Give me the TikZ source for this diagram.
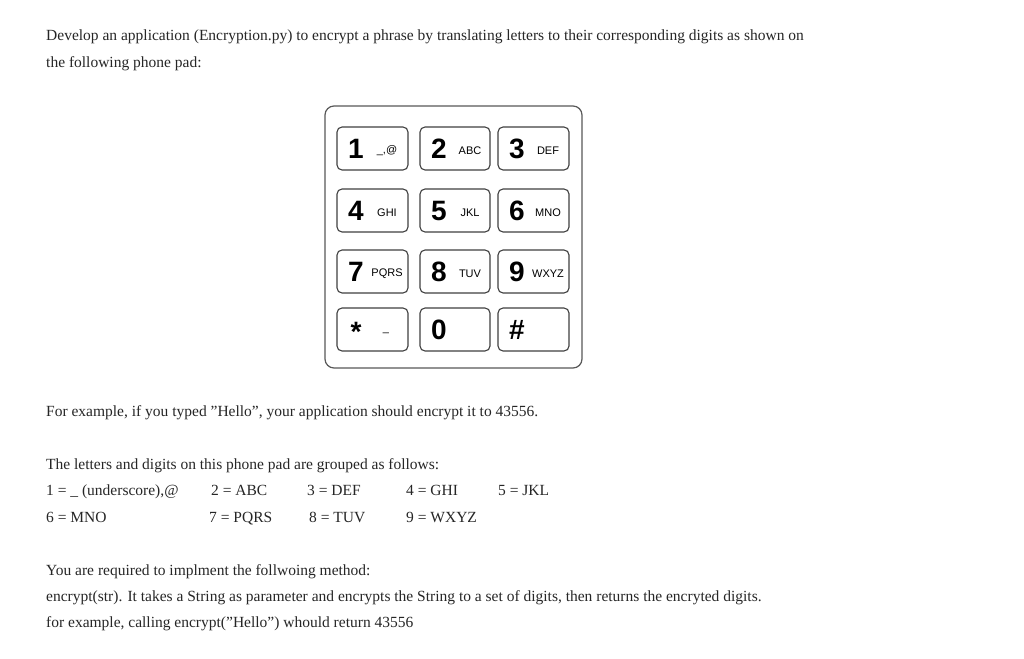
\documentclass[tikz,border=0pt]{standalone}
\usepackage{fontspec}
\setmainfont{Liberation Serif}
\newfontfamily\padfont{Liberation Sans}
\begin{document}
\begin{tikzpicture}[x=1pt,y=-1pt,
  txt/.style={anchor=base west,inner sep=0pt,font=\fontsize{15.5}{18}\selectfont,text=black!85},
  keybox/.style={draw=black!75,line width=1.1pt,rounded corners=5pt},
  dig/.style={anchor=center,inner sep=0pt,font=\padfont\bfseries\fontsize{28}{30}\selectfont},
  let/.style={anchor=center,inner sep=0pt,font=\padfont\fontsize{11}{12}\selectfont}]
\useasboundingbox (0,0) rectangle (1024,658);
\fill[white] (0,0) rectangle (1024,658);
\node[txt] (l1) at (46,41) {Develop an application (Encryption.py) to encrypt a phrase by translating letters to their corresponding digits as shown on};
\node[txt] (l2) at (46,68) {the following phone pad:};
\draw[draw=black!65,line width=1.2pt,rounded corners=9pt] (325,106) rectangle (582,368);
\foreach \r/\y in {0/127,1/189,2/250,3/308}{
  \foreach \x/\w in {337/71,420/70,498/71}{
    \draw[keybox] (\x,\y) rectangle ++(\w,43);
  }}
\foreach \d/\l/\x/\y in {1/{\_,@}/337/127,2/ABC/420/127,3/DEF/498/127,4/GHI/337/189,5/JKL/420/189,6/MNO/498/189,7/PQRS/337/250,8/TUV/420/250,9/WXYZ/498/250}{
  \node[dig] (d\d) at (\x+19,\y+22) {\d};
  \node[let] (t\d) at (\x+50,\y+24) {\l};
}
\node[dig] (ds) at (356,332) {*};
\node[let] (ts) at (386,333) {\_};
\node[dig] (d0) at (439,330) {0};
\node[dig] (dh) at (517,330) {\#};
\node[txt] (ex) at (46,416) {For example, if you typed "Hello", your application should encrypt it to 43556.};
\node[txt] (gr) at (46,469) {The letters and digits on this phone pad are grouped as follows:};
\node[txt] (g1) at (46,495) {1 = \_ (underscore),@};
\node[txt] (g2) at (211,495) {2 = ABC};
\node[txt] (g3) at (307,495) {3 = DEF};
\node[txt] (g4) at (406,495) {4 = GHI};
\node[txt] (g5) at (498,495) {5 = JKL};
\node[txt] (g6) at (46,522) {6 = MNO};
\node[txt] (g7) at (209,522) {7 = PQRS};
\node[txt] (g8) at (309,522) {8 = TUV};
\node[txt] (g9) at (406,522) {9 = WXYZ};
\node[txt] (r1) at (46,575) {You are required to implment the follwoing method:};
\node[txt] (r2) at (46,601) {encrypt(str). It takes a String as parameter and encrypts the String to a set of digits, then returns the encryted digits.};
\node[txt] (r3) at (46,627) {for example, calling encrypt("Hello") whould return 43556};
\end{tikzpicture}
\end{document}
